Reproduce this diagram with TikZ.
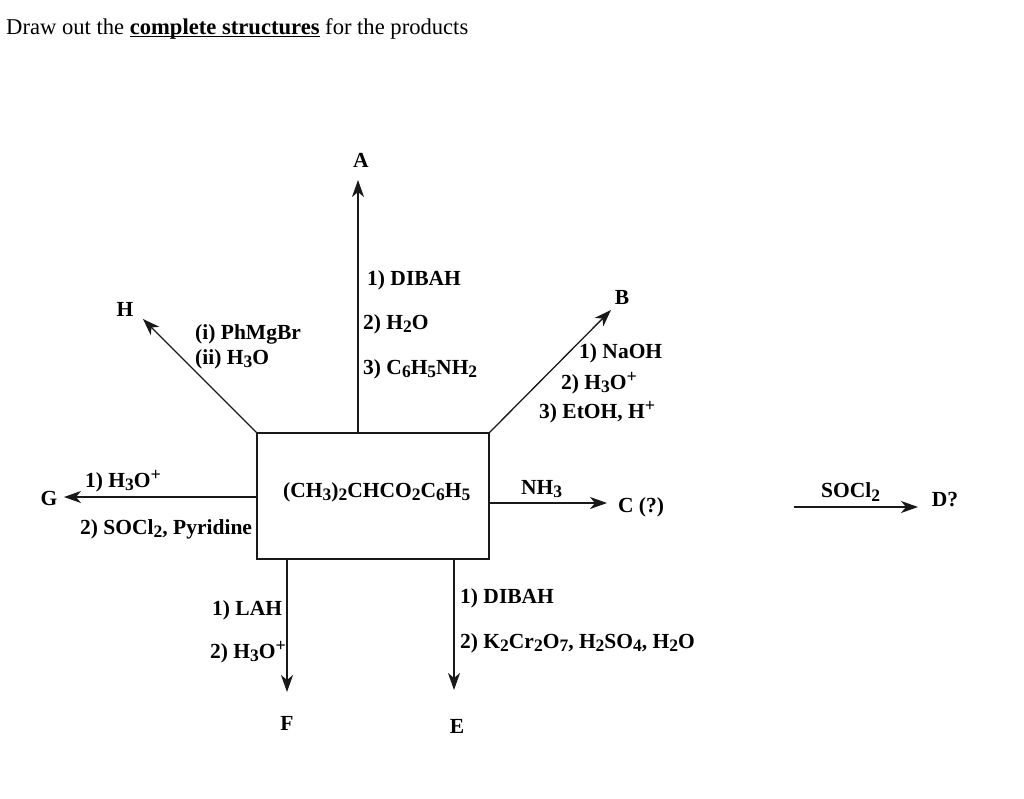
\documentclass[tikz,border=0pt]{standalone}
\usepackage{fontspec}
\setmainfont{Liberation Serif}
\usetikzlibrary{arrows.meta}
\newcommand{\ts}[1]{\raisebox{-0.35ex}{\fontsize{17.5pt}{17.5pt}\selectfont #1}}
\newcommand{\tp}[1]{\raisebox{0.65ex}{\fontsize{18pt}{18pt}\selectfont #1}}
\newsavebox{\ulbox}
\newcommand{\ulbar}[1]{\sbox{\ulbox}{#1}\rlap{\rule[-2.5pt]{\wd\ulbox}{1pt}}\usebox{\ulbox}}
\tikzset{
  reagent/.style={inner sep=0pt,anchor=west,font=\fontsize{21.5pt}{24pt}\selectfont\bfseries},
  product/.style={inner sep=0pt,font=\fontsize{21.5pt}{24pt}\selectfont\bfseries},
  rxn/.style={line width=1.3pt,draw=black!90,fill=black!90,-{Stealth[length=17pt,width=12pt,inset=5pt]}}
}
\begin{document}
\begin{tikzpicture}[x=1pt,y=-1pt]
  \useasboundingbox (0,0) rectangle (1024,798);
  \node[inner sep=0pt,anchor=west,font=\fontsize{22.6pt}{25pt}\selectfont] (title) at (6,29)
    {Draw out the \ulbar{\textbf{complete structures}} for the products};
  % starting material
  \node[draw=black!90,line width=1.3pt,minimum width=232pt,minimum height=126pt,inner sep=0pt] (ester) at (373,496) {};
  \node[reagent] (esterlabel) at (283,492) {(CH\ts{3})\ts{2}CHCO\ts{2}C\ts{6}H\ts{5}};
  % products
  \node[product] (A) at (361,160) {A};
  \node[product] (B) at (622,297) {B};
  \node[product] (C) at (641,507) {C (?)};
  \node[product] (D) at (945,500) {D?};
  \node[product] (E) at (457,726) {E};
  \node[product] (F) at (287,723) {F};
  \node[product] (G) at (49,498) {G};
  \node[product] (H) at (125,309) {H};
  % arrow ends
  \coordinate (a1) at (358,180);
  \coordinate (b1) at (611,310);
  \coordinate (c1) at (607,503);
  \coordinate (d0) at (794,507);
  \coordinate (d1) at (918,507);
  \coordinate (e1) at (454,690);
  \coordinate (f1) at (287,692);
  \coordinate (g1) at (64,497);
  \coordinate (h1) at (143,319);
  \draw[rxn] (a1 |- ester.north) -- (a1);
  \draw[rxn] (ester.north east) -- (b1);
  \draw[rxn] (ester.east |- c1) -- (c1);
  \draw[rxn] (d0) -- (d1);
  \draw[rxn] (e1 |- ester.south) -- (e1);
  \draw[rxn] (f1 |- ester.south) -- (f1);
  \draw[rxn] (ester.west |- g1) -- (g1);
  \draw[rxn] (ester.north west) -- (h1);
  % reagents
  \node[reagent] (a2) at (367,280) {1) DIBAH};
  \node[reagent] (a3) at (363,324) {2) H\ts{2}O};
  \node[reagent] (a4) at (363,369) {3) C\ts{6}H\ts{5}NH\ts{2}};
  \node[reagent] (b2) at (579,353) {1) NaOH};
  \node[reagent] (b3) at (561,383) {2) H\ts{3}O\tp{+}};
  \node[reagent] (b4) at (539,412) {3) EtOH, H\tp{+}};
  \node[reagent] (c2) at (521,489) {NH\ts{3}};
  \node[reagent] (d2) at (821,492) {SOCl\ts{2}};
  \node[reagent] (e2) at (460,598) {1) DIBAH};
  \node[reagent] (e3) at (460,643) {2) K\ts{2}Cr\ts{2}O\ts{7}, H\ts{2}SO\ts{4}, H\ts{2}O};
  \node[reagent] (f2) at (212,610) {1) LAH};
  \node[reagent] (f3) at (210,652) {2) H\ts{3}O\tp{+}};
  \node[reagent] (g2) at (85,481) {1) H\ts{3}O\tp{+}};
  \node[reagent] (g3) at (80,529) {2) SOCl\ts{2}, Pyridine};
  \node[reagent] (h2) at (195,334) {(i) PhMgBr};
  \node[reagent] (h3) at (195,359) {(ii) H\ts{3}O};
\end{tikzpicture}
\end{document}
